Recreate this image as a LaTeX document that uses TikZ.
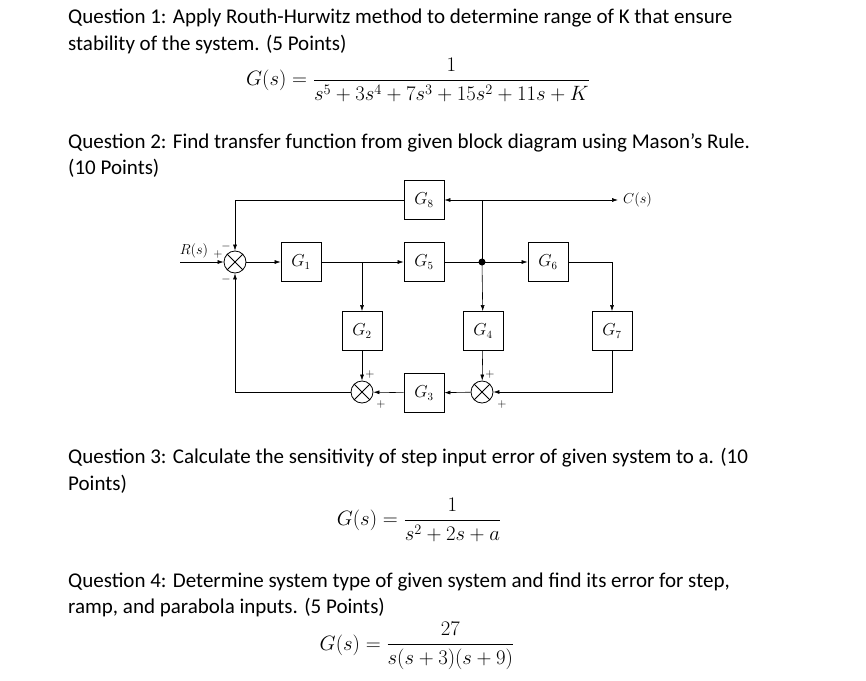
\documentclass[tikz,border=0pt]{standalone}
\usepackage{fontspec}
\setmainfont{Carlito}
\usepackage{amsmath}
\usetikzlibrary{arrows.meta}
\begin{document}
\begin{tikzpicture}[x=1pt,y=-1pt,
  qtext/.style={anchor=west,inner sep=0pt,font=\fontsize{21}{24}\selectfont},
  eqn/.style={inner sep=0pt,font=\fontsize{21.5}{24}\selectfont},
  blk/.style={draw,line width=0.8pt,minimum width=40pt,minimum height=39pt,inner sep=0pt,font=\fontsize{16}{18}\selectfont},
  sumj/.style={draw,line width=0.8pt,circle,minimum size=22pt,inner sep=0pt,path picture={\draw (path picture bounding box.north west)--(path picture bounding box.south east) (path picture bounding box.north east)--(path picture bounding box.south west);}},
  lab/.style={inner sep=1pt,font=\fontsize{15}{17}\selectfont},
  sg/.style={inner sep=0pt,font=\fontsize{13}{15}\selectfont},
  ar/.style={-{Latex[length=6pt,width=4pt]},line width=0.6pt},
  ln/.style={line width=0.6pt}]
\useasboundingbox (0,0) rectangle (866,680);
\fill[white] (0,0) rectangle (866,680);
\node[qtext] (q1a) at (68,18) {Question 1: Apply Routh-Hurwitz method to determine range of K that ensure};
\node[qtext] (q1b) at (68,45) {stability of the system. (5 Points)};
\node[eqn] (e1) at (418,80) {$\displaystyle G(s)=\frac{1}{s^5+3s^4+7s^3+15s^2+11s+K}$};
\node[qtext] (q2a) at (68,143) {Question 2: Find transfer function from given block diagram using Mason’s Rule.};
\node[qtext] (q2b) at (68,168) {(10 Points)};
\node[qtext] (q3a) at (68,458) {Question 3: Calculate the sensitivity of step input error of given system to a. (10};
\node[qtext] (q3b) at (68,484) {Points)};
\node[eqn] (e3) at (419,520) {$\displaystyle G(s)=\frac{1}{s^2+2s+a}$};
\node[qtext] (q4a) at (68,582) {Question 4: Determine system type of given system and find its error for step,};
\node[qtext] (q4b) at (68,608) {ramp, and parabola inputs. (5 Points)};
\node[eqn] (e4) at (417,646) {$\displaystyle G(s)=\frac{27}{s(s+3)(s+9)}$};
% diagram
\node[sumj] (s1) at (235,262) {};
\node[blk] (g1) at (301,262) {$G_1$};
\node[blk] (g5) at (424,262) {$G_5$};
\node[blk] (g6) at (548,262) {$G_6$};
\node[blk] (g8) at (424,200) {$G_8$};
\node[blk] (g2) at (362,331) {$G_2$};
\node[blk] (g4) at (483,331) {$G_4$};
\node[blk] (g7) at (612,331) {$G_7$};
\node[blk] (g3) at (424,393) {$G_3$};
\node[sumj] (s2) at (362,392) {};
\node[sumj] (s3) at (482,392) {};
\fill (482,262) circle (3.5pt) coordinate (jd);
\coordinate (rin) at (180,262);
\coordinate (cout) at (618,200);
\coordinate (b1) at (362,262);
\coordinate (t1) at (482,200);
\node[lab,anchor=west] (cl) at (622,200) {$C(s)$};
\node[lab,anchor=south] (rl) at (194,259) {$R(s)$};
\draw[ar] (rin) -- (s1);
\draw[ar] (s1) -- (g1);
\draw[ar] (g1) -- (g5);
\draw[ln] (g5) -- (jd);
\draw[ar] (jd) -- (g6);
\draw[ar] (g6.east) -| (g7.north);
\draw[ar] (g7.south) |- (s3.east);
\draw[ar] (s3) -- (g3);
\draw[ar] (g3) -- (s2);
\draw[ar] (s2.west) -| (s1.south);
\draw[ar] (b1) -- (g2);
\draw[ar] (g2) -- (s2);
\draw[ar] (jd) -- (g4);
\draw[ar] (g4) -- (s3);
\draw[ln] (jd) -- (t1);
\draw[ar] (t1) -- (cout);
\draw[ar] (t1) -- (g8);
\draw[ar] (g8.west) -| (s1.north);
\node[sg] at (218,254) {$+$};
\node[sg] at (226,246) {$-$};
\node[sg] at (226,279) {$-$};
\node[sg] at (370,374) {$+$};
\node[sg] at (381,404) {$+$};
\node[sg] at (490,374) {$+$};
\node[sg] at (502,404) {$+$};
\end{tikzpicture}
\end{document}
